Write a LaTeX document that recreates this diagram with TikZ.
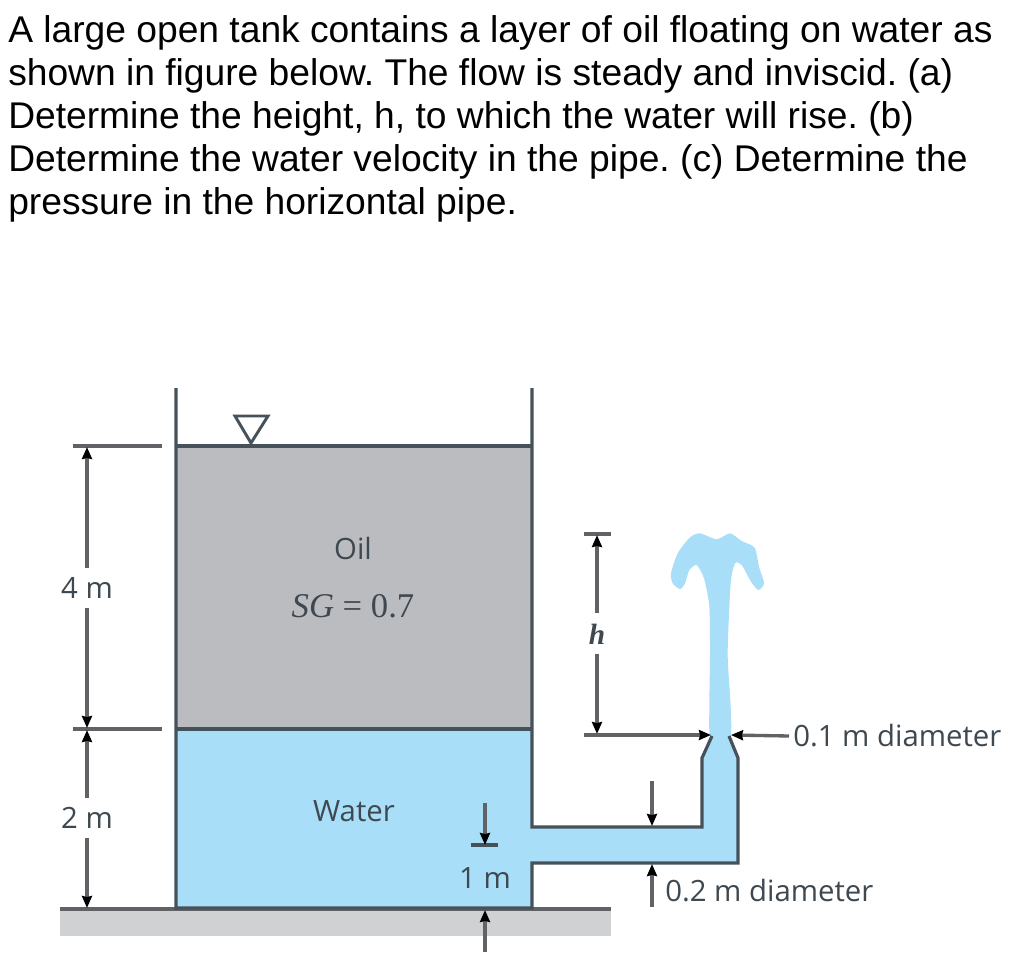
\documentclass[tikz,border=0pt]{standalone}
\usepackage{fontspec}
\setmainfont{Liberation Sans}
\newfontfamily\labelfont{Open Sans}
\newfontfamily\mathserif{Liberation Serif}
\usetikzlibrary{arrows.meta}
\definecolor{waterc}{HTML}{A9DEF9}
\definecolor{oilc}{HTML}{BBBCC0}
\definecolor{groundc}{HTML}{D0D1D3}
\definecolor{wallc}{HTML}{46525A}
\definecolor{dimc}{HTML}{606266}
\definecolor{textc}{HTML}{3E4850}
\tikzset{
  x=0.75pt,y=-0.75pt,
  wall/.style={draw=wallc,line width=2.4pt},
  extline/.style={draw=dimc,line width=2.5pt},
  dimline/.style={draw=dimc,line width=2.5pt,-{Stealth[length=9pt,width=7.5pt,inset=0.8pt,black]}},
  lab/.style={font=\labelfont\fontsize{22}{26}\selectfont,text=textc,inner sep=0pt},
  para/.style={font=\fontsize{27.9}{32.3}\selectfont,align=left,anchor=north west,inner sep=0pt,text=black}
}
\begin{document}
\begin{tikzpicture}
\frenchspacing
\useasboundingbox (0,0) rectangle (1035,974);
\fill[white] (0,0) rectangle (1035,974);

\node[para] (question) at (8,15) {A large open tank contains a layer of oil floating on water as\\
shown in figure below. The flow is steady and inviscid. (a)\\
Determine the height, h, to which the water will rise. (b)\\
Determine the water velocity in the pipe. (c) Determine the\\
pressure in the horizontal pipe.};

% ground
\fill[groundc] (60,909) rectangle (611,936);
\draw[draw=dimc,line width=2.6pt] (60,909) -- (611,909);

% fluids
\fill[oilc] (176,446) rectangle (532,729);
\fill[waterc] (176,729) -- (532,729) -- (532,827) -- (702,827) -- (702,758) -- (712,736) -- (729,736) -- (738,758) -- (738,863) -- (532,863) -- (532,908) -- (176,908) -- cycle;

% jet
\begin{scope}[shift={(520,520)},x=0.25pt,y=-0.25pt]
\fill[waterc] plot[smooth cycle,tension=0.4] coordinates {
 (572,655) (568,560) (570,400) (568,260) (552,175) (530,135) (508,150) (495,190) (480,207)
 (458,190) (453,160) (473,100) (510,52) (540,40) (590,58) (630,40) (665,63) (704,83)
 (717,140) (732,190) (715,210) (693,185) (665,135) (645,130) (632,190) (623,400) (632,560) (630,655)};
\end{scope}

% walls
\draw[wall] (176,388) -- (176,908) -- (532,908) -- (532,863) -- (738,863) -- (738,758) -- (729,736);
\draw[wall] (532,388) -- (532,827) -- (702,827) -- (702,758) -- (712,736);
\draw[wall] (176,446) -- (532,446);
\draw[wall] (176,729) -- (532,729);

% free surface marker
\draw[draw=wallc,line width=2.2pt,line join=miter] (235,416) -- (268,416) -- (251,443) -- cycle;

% texts
\node[lab] (oil) at (353,548) {Oil};
\node[font=\mathserif\fontsize{26}{30}\selectfont,text=textc,inner sep=0pt] (sg) at (353,606) {\textit{SG} = 0.7};
\node[lab] (water) at (354,811) {Water};
\node[lab] (four) at (87,588) {4 m};
\node[lab] (two) at (87,818) {2 m};
\node[lab] (one) at (485,878) {1 m};
\node[font=\mathserif\itshape\bfseries\fontsize{22}{26}\selectfont,text=textc,inner sep=0pt] (hh) at (597,634) {h};
\node[lab,anchor=west] (small) at (793,736) {0.1 m diameter};
\node[lab,anchor=west] (big) at (665,891) {0.2 m diameter};

% extension lines
\draw[extline] (73,446) -- (162,446);
\draw[extline] (73,729) -- (162,729);
\draw[extline] (584,534) -- (611,534);
\draw[draw=wallc,line width=2.5pt] (471,845) -- (498,845);

% coordinates for dimension ends
\coordinate (a4t) at (87,447);
\coordinate (a4b) at (87,728);
\coordinate (a2t) at (87,730);
\coordinate (a2b) at (87,908);
\coordinate (aht) at (597,535);
\coordinate (ahb) at (597,734);
\coordinate (s1) at (584,735);
\coordinate (s2) at (711,735);
\coordinate (s3) at (731,735);
\coordinate (o1) at (485,803);
\coordinate (o2) at (485,845);
\coordinate (o3) at (485,952);
\coordinate (o4) at (485,910);
\coordinate (b1) at (652,781);
\coordinate (b2) at (652,826);
\coordinate (b3) at (652,907);
\coordinate (b4) at (652,864);

% dimensions
\draw[dimline] ([yshift=7pt]four.north) -- (a4t);
\draw[dimline] ([yshift=-7pt]four.south) -- (a4b);
\draw[dimline] ([yshift=7pt]two.north) -- (a2t);
\draw[dimline] ([yshift=-7pt]two.south) -- (a2b);
\draw[dimline] ([yshift=8pt]hh.north) -- (aht);
\draw[dimline] ([yshift=-7pt]hh.south) -- (ahb);
\draw[dimline] (s1) -- (s2);
\draw[dimline] ([xshift=-3pt]small.west) -- (s3);
\draw[dimline] (o1) -- (o2);
\draw[dimline] (o3) -- (o4);
\draw[dimline] (b1) -- (b2);
\draw[dimline] (b3) -- (b4);
\end{tikzpicture}
\end{document}
